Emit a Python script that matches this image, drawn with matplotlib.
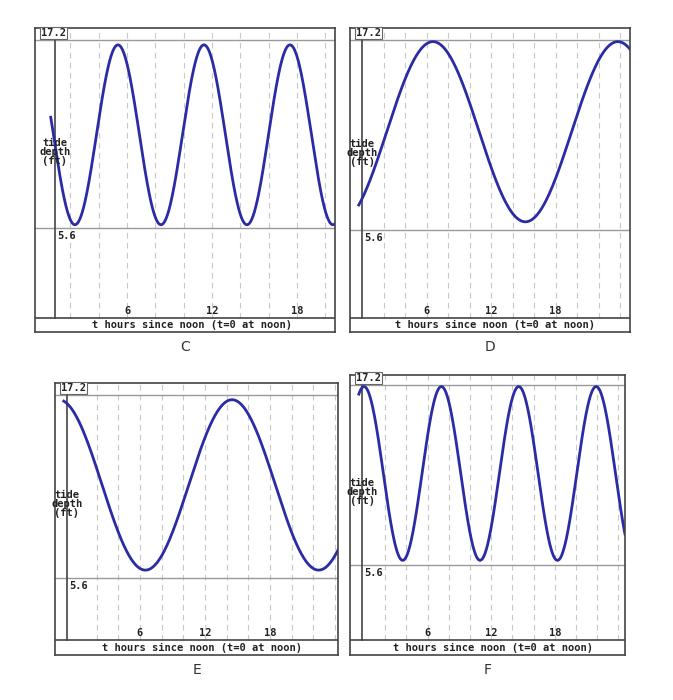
import numpy as np
import matplotlib.pyplot as plt

W, H = 673, 700
letters = ["C", "D", "E", "F"]
# tide model parameters (mid level, amplitude, period h, time of a peak h)
mid_levels = [11.35, 11.6, 11.5, 11.5]
amplitudes = [5.55, 5.5, 5.4, 5.6]
periods = [6.07, 17.2, 16.0, 7.3]
peak_times = [5.36, 6.6, -1.5, 0.0]
tick_values = [6, 12, 18]
y_marks = [5.6, 17.2]

# layout in pixels: box (l, t, r, b), x of t=0, px per hour, y of 17.2, y of 5.6, strip line y, y-axis x
layouts = [
    ((35, 28, 335, 332), 42, 14.17, 40, 228, 318, 55),
    ((350, 28, 630, 332), 362, 10.75, 40, 230, 318, 362),
    ((55, 383, 338, 655), 75, 10.83, 395, 578, 640, 67),
    ((350, 375, 625, 655), 364, 10.6, 385, 565, 640, 362),
]

fig = plt.figure(figsize=(W / 100, H / 100), dpi=100)
fig.patch.set_facecolor("white")
mono = dict(family="DejaVu Sans Mono", fontweight="bold", fontsize=7.5, color="#222222")

for i in range(4):
    (l, t, r, b), x0, pxh, y17, y56, strip, yax = layouts[i]
    ax = fig.add_axes([l / W, 1 - b / H, (r - l) / W, (b - t) / H])
    pxft = (y56 - y17) / (y_marks[1] - y_marks[0])
    tmin, tmax = (l - x0) / pxh, (r - x0) / pxh
    ymax = y_marks[1] + (y17 - t) / pxft
    ymin = y_marks[0] - (b - y56) / pxft
    ax.set_xlim(tmin, tmax)
    ax.set_ylim(ymin, ymax)
    ax.set_xticks([]); ax.set_yticks([])
    for s in ax.spines.values():
        s.set_color("#444444"); s.set_linewidth(1.2)
    ystrip = y_marks[0] - (strip - y56) / pxft
    yaxis_t = (yax - x0) / pxh
    for h in np.arange(2, tmax, 2):
        ax.plot([h, h], [ystrip, ymax], color="#c8c8c8", lw=0.8, ls=(0, (5, 4)))
    for yv in y_marks:
        ax.axhline(yv, color="#999999", lw=1.0)
    ax.axhline(ystrip, color="#444444", lw=1.2)
    ax.plot([yaxis_t, yaxis_t], [ystrip, ymax], color="#444444", lw=1.2)
    tt = np.linspace(max(tmin, yaxis_t - 0.3), tmax, 600)
    yy = mid_levels[i] + amplitudes[i] * np.cos(2 * np.pi * (tt - peak_times[i]) / periods[i])
    ax.plot(tt, yy, color="#2b2ba6", lw=2.0, clip_on=True)
    ax.text(tmin + 6 / pxh, y_marks[1] + 0.1, "17.2", va="bottom", ha="left",
            bbox=dict(boxstyle="square,pad=0.1", fc="white", ec="#666666", lw=0.8), **mono)
    ax.text(yaxis_t + 2 / pxh, y_marks[0] - 0.2, "5.6", va="top", ha="left", **mono)
    ax.text(yaxis_t, 10.3, "tide\ndepth\n(ft)", va="center",
            ha="center", linespacing=0.85, **mono)
    for tv in tick_values:
        ax.text(tv, ystrip + 0.15, str(tv), ha="center", va="bottom", **mono)
    ax.text((tmin + tmax) / 2 + 0.5, (ystrip + ymin) / 2, "t hours since noon (t=0 at noon)",
            ha="center", va="center", **mono)
    fig.text(((l + r) / 2) / W, 1 - (b + 15) / H, letters[i], ha="center", va="center",
             fontsize=10, color="#333333")

fig.savefig("out.png", dpi=100, facecolor="white")
